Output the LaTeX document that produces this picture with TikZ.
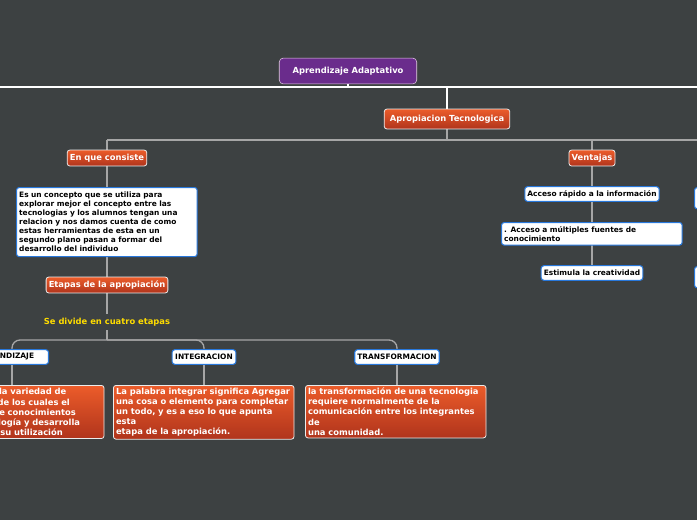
\documentclass[tikz,border=0pt]{standalone}
\usepackage{fontspec}
\setmainfont{DejaVu Sans}
\begin{document}
\begin{tikzpicture}[x=0.0264583cm,y=-0.0264583cm,
  every node/.style={font=\bfseries\fontsize{5.6}{6.8}\selectfont},
  big/.style={font=\bfseries\fontsize{6.3}{7.6}\selectfont},
  org/.style={draw=white!85!gray,rounded corners=2pt,top color={rgb,255:red,236;green,92;blue,42},bottom color={rgb,255:red,176;green,52;blue,28},text=white,inner sep=2pt,line width=0.6pt,align=left},
  wbox/.style={draw={rgb,255:red,40;green,120;blue,220},fill=white,rounded corners=2pt,text=black,inner sep=2pt,line width=0.8pt,align=left},
  wl/.style={white,line width=0.8pt},
  gl/.style={gray!70,line width=1pt}]
\fill[fill={rgb,255:red,61;green,65;blue,66}] (0,0) rectangle (697,520);
\useasboundingbox (0,0) rectangle (697,520);
\begin{scope}
\clip (0,0) rectangle (697,520);
% lines
\draw[wl] (0,87) -- (697,87);
\draw[gl] (107,140) -- (697,140);
\draw[gl] (447,128) -- (447,140);
\draw[gl] (107,140) -- (107,150);
\draw[gl] (592,140) -- (592,150);
\draw[gl] (107,166) -- (107,187);
\draw[gl] (107,256) -- (107,277);
\draw[gl] (107,293) -- (107,314);
\draw[gl] (107,330) -- (107,340);
\draw[gl,rounded corners=6pt] (12,350) -- (12,340) -- (397,340) -- (397,350);
\draw[gl,rounded corners=6pt] (107,340) -- (204,340) -- (204,350);
\draw[gl] (12,364) -- (12,386);
\draw[gl] (204,364) -- (204,386);
\draw[gl] (397,364) -- (397,386);
\draw[gl] (592,166) -- (592,266);
% nodes
\node[big,draw=white!80!violet,fill={rgb,255:red,106;green,44;blue,140},rounded corners=3pt,text=white,minimum width=103.5pt,minimum height=19.5pt] (root) at (348,71) {Aprendizaje Adaptativo};
\draw[wl] (root.south) -- (348,87);
\node[big,org,minimum width=94.5pt,minimum height=15pt] (apr) at (447,119) {Apropiacion Tecnologica};
\draw[wl] (447,87) -- (apr.north);
\node[big,org,minimum width=58.5pt,minimum height=12pt] (enq) at (107,158) {En que consiste};
\node[big,org,minimum width=34.5pt,minimum height=12pt] (ven) at (592,158) {Ventajas};
\node[wbox,anchor=north west,text width=132pt,minimum height=52pt] (con) at (16,187) {Es un concepto que se utiliza para\\ explorar mejor el concepto entre las\\ tecnologias y los alumnos tengan una\\ relacion y nos damos cuenta de como\\ estas herramientas de esta en un\\ segundo plano pasan a formar del\\ desarrollo del individuo};
\node[big,org,minimum width=88.5pt,minimum height=12pt] (eta) at (107,285) {Etapas de la apropiación};
\node[big,text={rgb,255:red,255;green,220;blue,0}] (div) at (107,322) {Se divide en cuatro etapas};
\node[wbox,minimum width=64pt,minimum height=11pt] (apz) at (6,357) {APRENDIZAJE};
\node[wbox,minimum width=48pt,minimum height=11pt] (int) at (204,357) {INTEGRACION};
\node[wbox,minimum width=63pt,minimum height=11pt] (tra) at (397,357) {TRANSFORMACION};
\node[big,org,anchor=north west,text width=132pt,minimum height=40pt] (t1) at (-77,385) {\hspace*{55pt}la variedad de\\\hspace*{48pt}s de los cuales el\\\hspace*{52pt}re conocimientos\\\hspace*{50pt}ología y desarrolla\\\hspace*{56pt}su utilización};
\node[big,org,anchor=north west,text width=132pt,minimum height=34pt] (t2) at (113,385) {La palabra integrar significa Agregar\\ una cosa o elemento para completar\\ un todo, y es a eso lo que apunta esta\\ etapa de la apropiación.};
\node[big,org,anchor=north west,text width=132pt,minimum height=34pt] (t3) at (305,385) {la transformación de una tecnologia\\ requiere normalmente de la\\ comunicación entre los integrantes de\\ una comunidad.};
\node[wbox,minimum width=97pt,minimum height=11pt] (v1) at (592,194) {Acceso rápido a la información};
\node[wbox,anchor=north west,text width=132pt,minimum height=17pt] (v2) at (501,222) {. Acceso a múltiples fuentes de\\ conocimiento};
\node[wbox,minimum width=73pt,minimum height=11pt] (v3) at (592,273) {Estimula la creatividad};
\node[wbox,anchor=north west,minimum width=15pt,minimum height=16pt] (r1) at (694,187) {};
\node[wbox,anchor=north west,minimum width=15pt,minimum height=16pt] (r2) at (694,266) {};
\end{scope}
\end{tikzpicture}
\end{document}
